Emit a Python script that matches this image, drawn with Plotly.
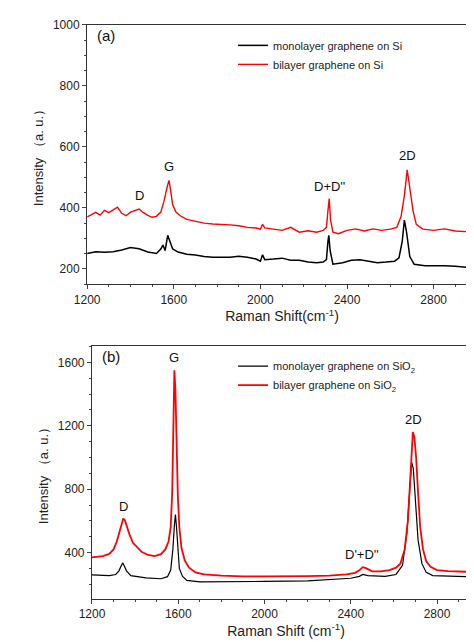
import plotly.graph_objects as go

a_red_x = [1200,1220,1240,1260,1280,1300,1320,1340,1360,1380,1400,1420,1440,1460,1480,1500,1520,1540,1555,1570,1578,1585,1595,1610,1630,1660,1700,1740,1780,1820,1860,1900,1940,1980,2000,2010,2020,2060,2100,2140,2180,2220,2260,2290,2305,2312,2318,2324,2335,2360,2400,2440,2480,2520,2560,2600,2630,2650,2665,2678,2690,2705,2720,2750,2800,2850,2900,2950,3000]
a_red_y = [370,378,385,376,392,384,393,402,382,374,386,391,396,384,375,369,372,386,422,470,490,460,410,386,374,362,356,350,347,346,344,341,336,334,330,346,334,330,326,336,320,325,320,326,336,390,430,360,320,315,326,331,324,331,326,330,336,372,440,525,470,390,346,330,326,331,324,322,326]
a_blk_x = [1200,1240,1280,1320,1360,1400,1440,1480,1520,1540,1550,1560,1572,1580,1595,1620,1660,1700,1740,1780,1820,1860,1900,1940,1980,2000,2010,2020,2060,2100,2140,2180,2220,2260,2290,2305,2312,2316,2322,2335,2380,2420,2460,2500,2540,2580,2620,2640,2655,2665,2675,2690,2710,2760,2800,2850,2900,2950,3000]
a_blk_y = [250,256,254,256,262,270,266,255,250,265,278,260,310,295,265,255,248,245,240,238,238,238,241,238,232,225,246,230,232,235,228,228,222,220,222,230,290,310,260,215,220,228,230,225,220,222,225,236,290,360,320,240,215,210,211,210,208,205,206]

b_red_x = [1200,1250,1280,1300,1315,1330,1340,1345,1352,1360,1375,1390,1410,1430,1460,1490,1520,1540,1555,1565,1572,1577,1582,1587,1592,1598,1605,1615,1630,1650,1680,1720,1800,1900,2000,2100,2200,2300,2380,2420,2440,2455,2470,2500,2540,2580,2610,2630,2650,2665,2675,2682,2688,2695,2703,2712,2722,2735,2750,2770,2800,2850,2900,3000]
b_red_y = [370,378,392,420,470,540,595,615,605,570,510,462,430,405,385,378,390,420,470,560,780,1200,1550,1420,1100,760,560,430,350,305,275,262,255,250,250,250,252,255,262,272,288,308,302,282,282,290,305,330,420,600,860,1050,1160,1130,1000,780,560,420,345,310,290,283,280,276]
b_blk_x = [1200,1280,1310,1325,1335,1343,1350,1360,1380,1450,1520,1550,1565,1575,1582,1587,1592,1598,1605,1620,1640,1700,1800,1900,2000,2200,2300,2400,2440,2455,2480,2560,2610,2640,2660,2672,2682,2690,2700,2712,2730,2750,2780,2900,3000]
b_blk_y = [260,255,262,285,315,335,315,285,255,240,235,248,290,420,570,640,560,400,300,250,225,215,215,215,218,222,228,238,250,262,255,250,262,320,520,790,970,930,740,480,330,275,255,250,245]

F = "Liberation Sans, Arial, sans-serif"
fig = go.Figure()
fig.add_trace(go.Scatter(x=a_blk_x, y=a_blk_y, mode="lines", line=dict(color="black", width=1.5),
                         name="monolayer graphene on Si", xaxis="x", yaxis="y", legend="legend"))
fig.add_trace(go.Scatter(x=a_red_x, y=a_red_y, mode="lines", line=dict(color="red", width=1.4),
                         name="bilayer graphene on Si", xaxis="x", yaxis="y", legend="legend"))
fig.add_trace(go.Scatter(x=b_blk_x, y=b_blk_y, mode="lines", line=dict(color="black", width=1.2),
                         name="monolayer graphene on SiO<sub>2</sub>", xaxis="x2", yaxis="y2", legend="legend2"))
fig.add_trace(go.Scatter(x=b_red_x, y=b_red_y, mode="lines", line=dict(color="red", width=1.8),
                         name="bilayer graphene on SiO<sub>2</sub>", xaxis="x2", yaxis="y2", legend="legend2"))

ax = dict(showline=True, linecolor="#333", linewidth=1.2, mirror=True, ticks="outside", ticklen=4,
          tickfont=dict(size=12, color="#222"), showgrid=False, zeroline=False,
          minor=dict(ticks="outside", ticklen=2))
fig.update_layout(
    width=474, height=642, margin=dict(l=0, r=0, t=0, b=0),
    plot_bgcolor="white", paper_bgcolor="white", font=dict(family=F, color="#222"),
    xaxis=dict(ax, domain=[0.1435, 0.989], anchor="y", range=[1200, 3000], dtick=400,
               title=dict(text="Raman Shift(cm<sup>-1</sup>)", font=dict(size=14), standoff=4)),
    yaxis=dict(ax, domain=[0.5763, 0.9844], anchor="x", range=[150, 1000], dtick=200,
               title=dict(text="Intensity （a. u.）", font=dict(size=13), standoff=6)),
    xaxis2=dict(ax, domain=[0.154, 0.996], anchor="y2", range=[1200, 3000], dtick=400,
                title=dict(text="Raman Shift (cm<sup>-1</sup>)", font=dict(size=14), standoff=4)),
    yaxis2=dict(ax, domain=[0.081, 0.478], anchor="x2", range=[110, 1700], dtick=400,
                title=dict(text="Intensity （a. u.）", font=dict(size=13), standoff=6)),
    legend=dict(x=0.46, y=0.975, xanchor="left", yanchor="top", bgcolor="rgba(0,0,0,0)",
                font=dict(size=11), itemwidth=30, tracegroupgap=0),
    legend2=dict(x=0.46, y=0.47, xanchor="left", yanchor="top", bgcolor="rgba(0,0,0,0)",
                 font=dict(size=11), itemwidth=30, tracegroupgap=0),
)
ann = [("(a)", 1200, 930, "x", "y", 15, "left"), ("D", 1440, 410, "x", "y", 13, "center"),
       ("G", 1580, 505, "x", "y", 13, "center"), ("D+D''", 2320, 440, "x", "y", 13, "center"),
       ("2D", 2680, 540, "x", "y", 13, "center"),
       ("(b)", 1200, 1570, "x2", "y2", 15, "left"), ("D", 1345, 630, "x2", "y2", 13, "center"),
       ("G", 1582, 1570, "x2", "y2", 13, "center"), ("D'+D''", 2450, 325, "x2", "y2", 13, "center"),
       ("2D", 2690, 1180, "x2", "y2", 13, "center")]
for t, x, y, xr, yr, s, al in ann:
    fig.add_annotation(text=t, x=x, y=y, xref=xr, yref=yr, showarrow=False, xanchor=al,
                       yanchor="bottom", xshift=8 if al == "left" else 0, font=dict(size=s, color="#111"))
fig.write_html("out.html")
